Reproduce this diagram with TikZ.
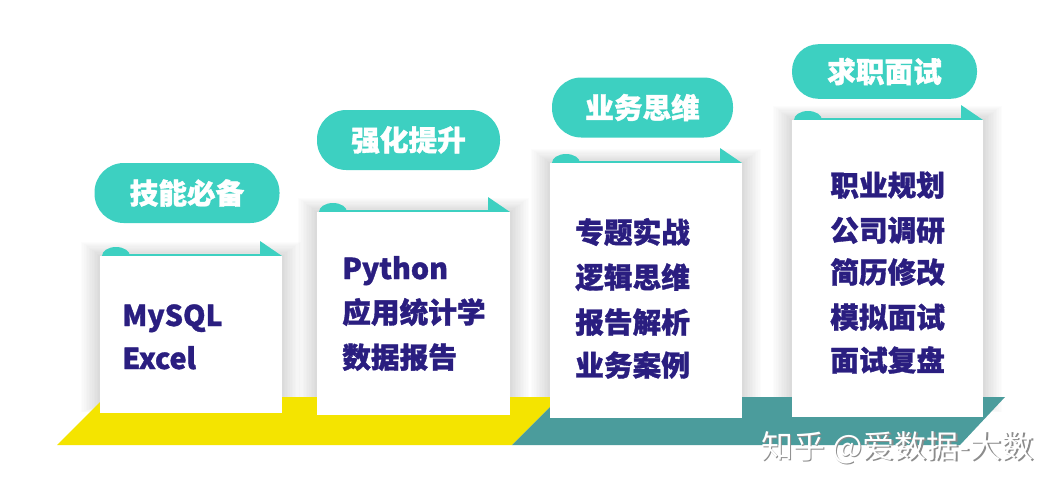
\documentclass[tikz,border=0pt]{standalone}
\usepackage{fontspec}
\setmainfont{Noto Sans CJK SC}[BoldFeatures={FakeBold=1.2}]
\definecolor{pill}{HTML}{3DD0C1}
\definecolor{navy}{HTML}{2A1E80}
\definecolor{floorteal}{HTML}{4B9C9C}
\definecolor{flooryellow}{HTML}{F4E400}
\tikzset{
  pillbox/.style={fill=pill, rounded corners=22pt, text=white, font=\bfseries\fontsize{21.5}{24}\selectfont, inner sep=0pt},
  cardbox/.style={fill=white, inner sep=0pt},
  itemtext/.style={anchor=base west, text=navy, font=\bfseries\fontsize{21.5}{24}\selectfont, inner sep=0pt},
  tabfill/.style={fill=pill},
  softshade/.style={fill=black, fill opacity=0.011}
}
\newcommand\cardshadow[4]{% x1,y1,x2,y2
  \foreach \k in {1,...,12}{
    \fill[softshade] (#1-1.6*\k,#2-1.2*\k) rectangle (#3+1.6*\k,#4+0.6*\k);
  }
}
\newcommand\cardtab[3]{% x1, y1(top), x2
  \begin{scope}
    \clip (#1,#2-20) rectangle (#3,#2);
    \fill[tabfill] (#1+16,#2) ellipse (14 and 9);
  \end{scope}
  \fill[tabfill] (#1+4,#2-2.5) rectangle (#3-20,#2);
  \fill[tabfill] (#3-22,#2-15) -- (#3-22,#2) -- (#3,#2) -- cycle;
}
\begin{document}
\begin{tikzpicture}[x=0.75pt,y=-0.75pt]
\useasboundingbox (0,0) rectangle (1062,494);
\fill[white] (0,0) rectangle (1062,494);
% shadows
\cardshadow{100}{256}{282}{405}
\cardshadow{317}{212}{510}{405}
\cardshadow{550}{163}{742}{405}
\cardshadow{792}{120}{983}{405}
% floor
\fill[flooryellow] (57,445) -- (105,397) -- (560,397) -- (512,445) -- cycle;
\fill[floorteal] (512,445) -- (560,397) -- (1005,397) -- (960,445) -- cycle;
% card 1
\cardtab{100}{256}{282}
\node[cardbox, minimum width=136.5pt, minimum height=117.75pt] (c1) at (191,334.5) {};
% card 2
\cardtab{317}{212}{510}
\node[cardbox, minimum width=144.75pt, minimum height=152.25pt] (c2) at (413.5,313.5) {};
% card 3
\cardtab{550}{163}{742}
\node[cardbox, minimum width=144pt, minimum height=191.25pt] (c3) at (646,290.5) {};
% card 4
\cardtab{792}{120}{983}
\node[cardbox, minimum width=143.25pt, minimum height=222.75pt] (c4) at (887.5,268.5) {};
% pills
\node[pillbox, minimum width=138.75pt, minimum height=45pt] (p1) at (187,193) {技能必备};
\node[pillbox, minimum width=137.25pt, minimum height=45pt] (p2) at (408.5,140) {强化提升};
\node[pillbox, minimum width=135.75pt, minimum height=45pt] (p3) at (642.5,107.5) {业务思维};
\node[pillbox, minimum width=138.75pt, minimum height=41pt, rounded corners=20pt] (p4) at (884.5,71.5) {求职面试};
% card texts
\node[itemtext] (t11) at (122,326) {MySQL};
\node[itemtext] (t12) at (122,369) {Excel};
\node[itemtext] (t21) at (342,279) {Python};
\node[itemtext] (t22) at (342,323) {应用统计学};
\node[itemtext] (t23) at (342,368) {数据报告};
\node[itemtext] (t31) at (575,243) {专题实战};
\node[itemtext] (t32) at (575,288) {逻辑思维};
\node[itemtext] (t33) at (575,333) {报告解析};
\node[itemtext] (t34) at (575,376) {业务案例};
\node[itemtext] (t41) at (830,196) {职业规划};
\node[itemtext] (t42) at (830,241) {公司调研};
\node[itemtext] (t43) at (830,283) {简历修改};
\node[itemtext] (t44) at (830,328) {模拟面试};
\node[itemtext] (t45) at (830,371) {面试复盘};
% watermark
\node[text=black!45, font=\fontsize{24}{26}\selectfont, inner sep=0pt] (wms) at (899,449) {知乎 @爱数据-大数};
\node[text=white, font=\fontsize{24}{26}\selectfont, inner sep=0pt] (wm) at (897.5,447.5) {知乎 @爱数据-大数};
\end{tikzpicture}
\end{document}
